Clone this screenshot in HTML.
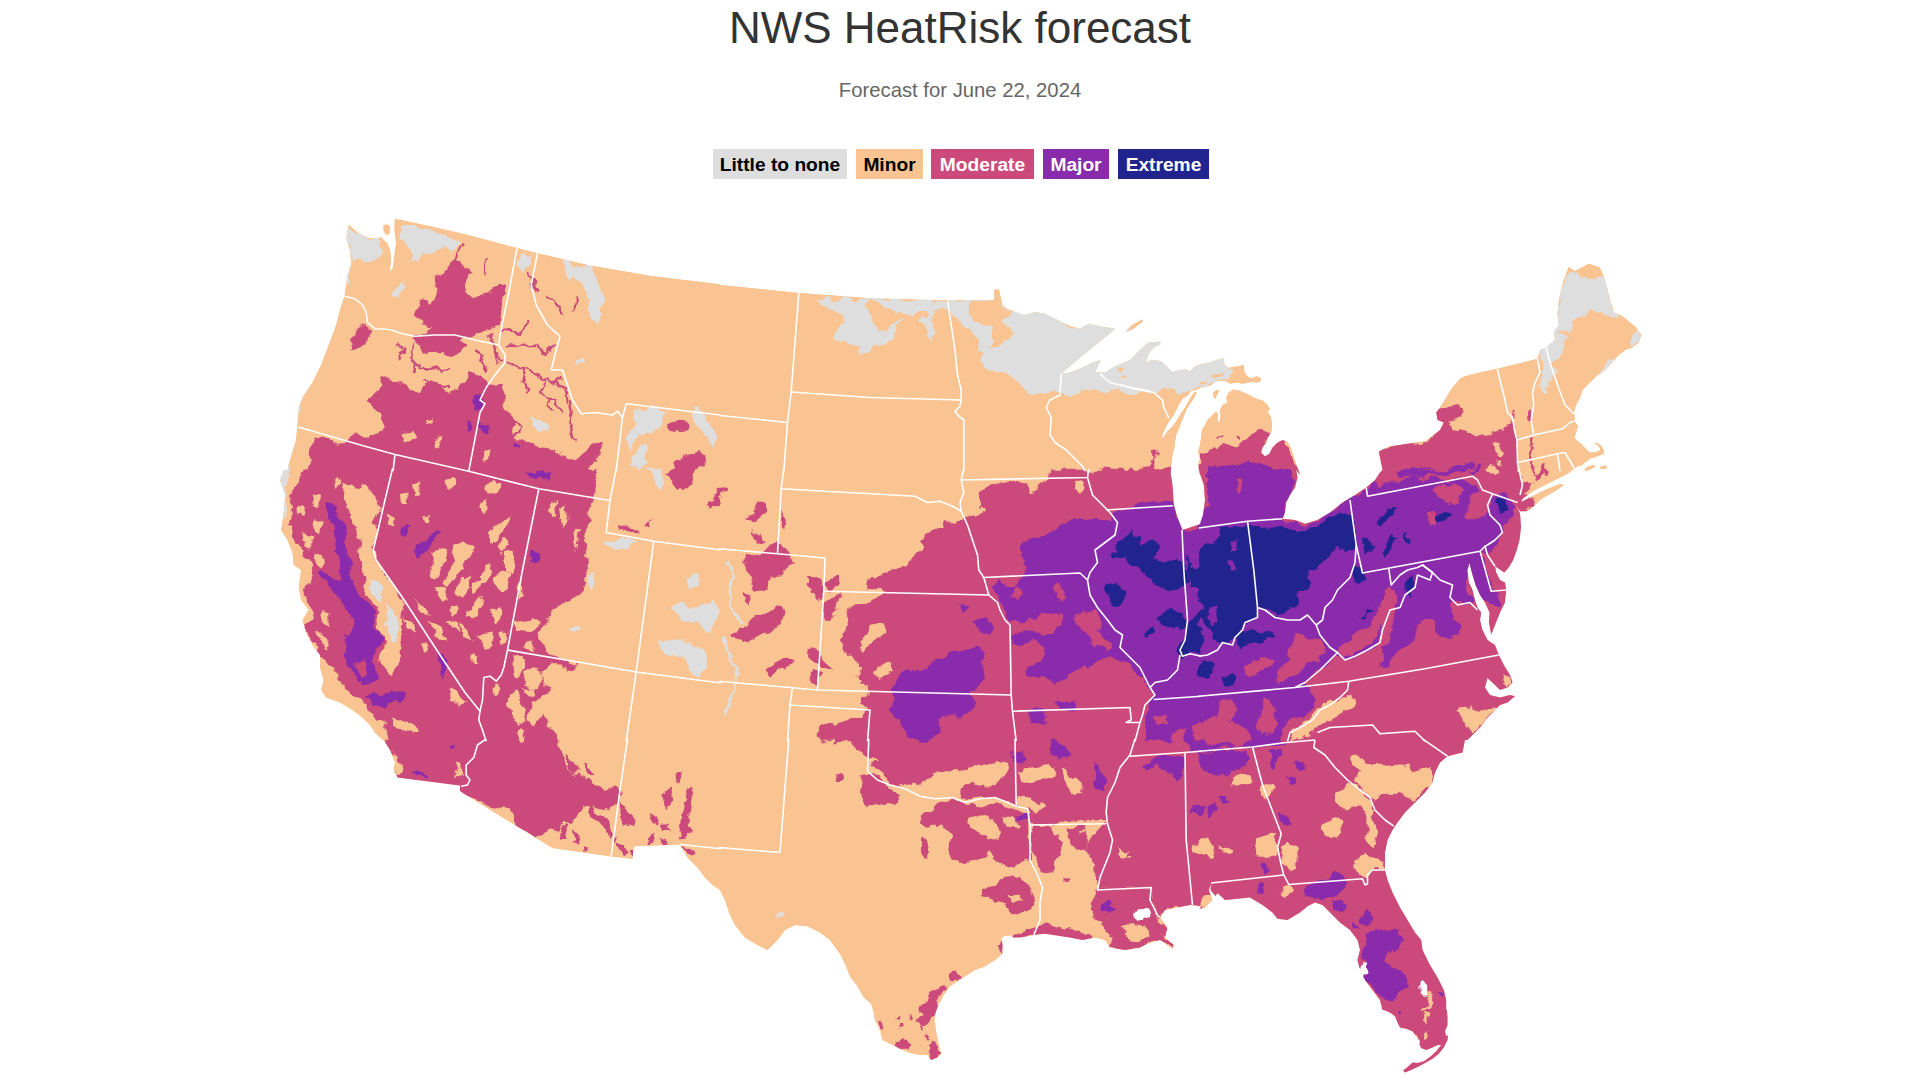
<!DOCTYPE html>
<html lang="en"><head><meta charset="utf-8"><title>NWS HeatRisk forecast</title>
<style>
html,body{margin:0;padding:0;background:#fff;}
body{width:1920px;height:1080px;overflow:hidden;position:relative;font-family:"Liberation Sans",sans-serif;}
h1{position:absolute;left:0;top:3px;width:1920px;margin:0;text-align:center;font-weight:400;font-size:44px;line-height:50px;color:#333;}
.sub{position:absolute;left:0;top:78px;width:1920px;text-align:center;font-size:20.3px;line-height:24px;color:#666;}
.lg{position:absolute;top:149px;height:30.4px;line-height:31.5px;font-size:19.2px;font-weight:700;text-align:center;white-space:nowrap;}
svg{position:absolute;left:0;top:0;}
</style></head><body>
<h1>NWS HeatRisk forecast</h1>
<div class="sub">Forecast for June 22, 2024</div>
<div class="lg" style="left:713px;width:134px;background:#dedede;color:#000">Little to none</div>
<div class="lg" style="left:856px;width:67px;background:#f9c491;color:#000">Minor</div>
<div class="lg" style="left:931px;width:103px;background:#cc4a7b;color:#fff">Moderate</div>
<div class="lg" style="left:1043px;width:66px;background:#8a2bab;color:#fff">Major</div>
<div class="lg" style="left:1118px;width:91px;background:#21248f;color:#fff">Extreme</div>
<svg width="1920" height="1080" viewBox="0 0 1920 1080">
<defs><filter id="rough" color-interpolation-filters="sRGB" filterUnits="userSpaceOnUse" x="0" y="0" width="1920" height="1080"><feTurbulence type="fractalNoise" baseFrequency="0.06" numOctaves="4" seed="7" result="n"/><feDisplacementMap in="SourceGraphic" in2="n" scale="13" xChannelSelector="R" yChannelSelector="G"/></filter><clipPath id="us"><polygon points="395,218.8 430,226.2 465,234.2 515,247.5 537.5,253.2 590,265.5 652.5,276.2 720,284.2 720,285 798.8,293 870,298.2 947.5,300.5 993.8,300 994.5,289.5 998.8,289.5 1002.5,305 1007.5,308.8 1016.2,312.5 1023.8,315 1035,312 1045,313.8 1057.5,320 1070,326.2 1080,328.8 1088.8,323.8 1100,326.2 1115,328.8 1105,337.5 1092.5,347.5 1080,357.5 1070,366.2 1061.2,373.8 1070,372.5 1082.5,367.5 1092.5,362.5 1100.5,360 1095,372.5 1105,372.5 1115,366.2 1130,360 1135,355 1142.5,347.5 1148.8,342.5 1160.6,341.5 1160,344.4 1153.8,347.5 1148.8,353.8 1145.6,363.1 1151.2,359.4 1161.2,361.2 1167.5,367.5 1172.5,371.9 1180,370 1186.2,369.4 1190,371.2 1195,366.2 1202.5,363.8 1210,362.5 1216.2,360 1223.8,358.1 1224.4,365 1228.8,368.1 1232.5,366.9 1238.8,366.2 1243.8,365 1244.4,372.5 1247.5,376.2 1251.2,378.8 1256.2,376.2 1260.6,378.1 1261.2,380.6 1257.5,382.5 1252.5,381.9 1247.5,382.5 1242.5,383.8 1237.5,382.5 1233.8,383.1 1230,383.8 1226.2,381.2 1220,380.6 1215,381.9 1211.2,385 1206.2,386.9 1200,387.5 1196.2,390 1191.2,390.6 1188.1,395 1182.5,398.8 1180,402.5 1177.5,407.5 1173.8,415 1170,420 1166.2,426.2 1163.1,432.5 1161.9,437.5 1163.8,436.9 1167.5,431.2 1172.5,426.2 1176.2,421.2 1180,415 1182.5,411.2 1185,407.5 1188.1,402.5 1190,398.8 1193.1,393.8 1195,391.9 1196.9,392.5 1193.8,398.8 1190,403.8 1186.2,410 1183.8,416.2 1181.2,422.5 1178.8,428.8 1176.2,435 1175,441.2 1174.4,447.5 1173.1,452.5 1171.9,458.8 1171.2,465 1170.6,475 1170,468.8 1172.5,485 1173.8,505 1177.5,517.5 1182.5,530 1201.2,523.8 1200,523.8 1203,515 1205,500 1203.8,485 1200.5,475 1200,475 1198.1,465 1200,458.8 1198.1,451.2 1200,445 1201.2,437.5 1201.9,430 1205,425 1207.5,420 1212.5,415 1216.2,411.2 1218.1,415 1217.5,421.2 1219.4,422.5 1220.6,415 1220,410 1222.5,405 1227.5,402.5 1226.2,397.5 1228.8,392.5 1233.1,389.4 1238.8,390.6 1243.8,392.5 1250,395.6 1256.2,398.8 1262.5,400.6 1267.5,405 1270,409.4 1267.5,411.9 1270.6,416.2 1271.9,422.5 1271.9,430 1268.8,436.2 1266.2,442.5 1262.5,447.5 1261.2,452.5 1265,456.2 1269.4,453.8 1272.5,447.5 1277.5,442.5 1282.5,440 1287.5,441.9 1290.6,447.5 1293.1,455 1295.6,462.5 1298.8,471.2 1300,475 1296.2,470 1297.5,477.5 1295,487.5 1290,495 1286.2,502.5 1285,512.5 1282.5,518.8 1295,520 1305,523.8 1317.5,520 1330,512.5 1342.5,502.5 1355,495 1366.2,487.5 1375,480 1380,472.5 1382.5,470 1378.8,451.2 1390,446.2 1407.5,443.8 1425,441.2 1433.8,435 1440,430 1443.8,422.5 1437.5,420 1436.2,412.5 1440,407.5 1446.2,397.5 1452.5,387.5 1460,378.8 1465,376.2 1480,372.5 1497.5,368.8 1512.5,365 1537.5,358.8 1540,350 1546.2,347.5 1555,340 1553.8,332.5 1558.8,325 1557.5,312.5 1560,295 1563.8,280 1568.8,267 1575,271.2 1588.8,263.8 1600,267.5 1605,280 1610,300 1613.8,312.5 1622.5,316.2 1630,322.5 1636.2,327.5 1641.2,335 1638.8,342.5 1632.5,347.5 1625,350 1617.5,356.2 1610,365 1602.5,372.5 1597.5,375 1590,382.5 1582.5,390 1580,397.5 1575,407.5 1573.8,413.8 1574.4,413.8 1574.4,421.2 1578.1,426 1576.2,432.5 1574.4,437.5 1576.2,440 1581.2,443.8 1585,448.1 1589.4,452.5 1595,452.2 1599.4,451 1600.4,448.8 1597.8,445.2 1594,443.1 1597.2,442.9 1601.5,446 1604,451 1603.5,454 1597.5,456.2 1590,458.8 1585,462.5 1582.5,465 1577.5,466.2 1572.5,470 1567.5,473.8 1562.5,476.2 1557.5,478.8 1550,482.5 1542.5,486.2 1535,490 1527.5,495 1522.5,498.8 1521.2,501.9 1527.5,498.8 1535,495 1543.8,490.6 1552.5,486.9 1560,484 1563.8,485 1558.8,488.8 1552.5,492.5 1546.2,496.2 1540,500 1535,505 1530,509.4 1526.2,511.2 1520,511.2 1515.5,505 1520,513.2 1521,526.8 1519.5,540 1516.8,550 1513.2,560 1508.2,568.2 1504.2,572.5 1498.8,568.8 1495,566.2 1496.2,572.5 1500,580 1505,582.5 1506.2,590 1505,602.5 1500,612.5 1495,625 1491.2,634.5 1489,622.5 1489.5,612.5 1485,602.5 1480,595 1475.5,585 1472.5,575 1470.5,567.5 1469.5,563 1467.5,570 1468.8,582.5 1472.5,590 1475,600 1477.5,607.5 1481.2,612.5 1480,620 1482.5,630 1487.5,640 1495,645 1498.8,655 1503.8,665 1510,675 1512.5,682.5 1507.5,687.5 1500,690 1495,685 1487.5,678 1485,687.5 1490,695 1500,697.5 1510,695 1515,696.2 1507.5,702.5 1500,705 1495,710 1487.5,717.5 1480,727.5 1472.5,735 1467.5,740 1465,740 1462.5,752.5 1447.5,756.2 1440,762.5 1435,772.5 1432.5,782.5 1425,792.5 1415,802.5 1405,812.5 1397.5,822.5 1392.5,830 1387.5,840 1385,852.5 1385,870 1387.5,880 1392.5,892.5 1400,907.5 1407.5,920 1415,932.5 1421.2,940 1422.5,950 1430,965 1437.5,977.5 1443.8,990 1446.2,1000 1446.2,1010 1446.9,1010 1447.5,1017.5 1447.5,1025 1445,1031.2 1446.2,1036.2 1448.1,1035 1447.5,1040 1443.8,1047.5 1438.8,1053.8 1432.5,1058.8 1425,1063.1 1417.5,1066.9 1410,1070.6 1405,1072.5 1403.1,1070.6 1407.5,1066.9 1412.5,1062.5 1417.5,1063.1 1423.8,1061.2 1430,1056.9 1436.2,1051.2 1441.2,1045 1437.5,1045 1432.5,1047.5 1426.2,1050 1421.2,1048.1 1419.4,1044.4 1420,1041.2 1416.2,1036.2 1412.5,1031.2 1406.2,1028.8 1400,1027.5 1397.5,1022.5 1395,1016.2 1390,1012.5 1383.8,1010 1382.5,1010 1380,1000 1372.5,990 1365,980 1360,970 1357.5,960 1360,950 1357.5,940 1350,930 1340,922.5 1330,912.5 1322.5,905 1315,902.5 1307.5,906.2 1300,912.5 1287.5,920 1277.5,918.8 1272.5,912.5 1262.5,905 1250,897.5 1237.5,898.8 1225,900 1217.5,893 1215.5,896.2 1210.5,890 1211.2,883.8 1208.8,890 1212.5,900 1205,907.5 1200,908.8 1201.2,906.2 1190,905 1177.5,907.5 1165,910 1160,917.5 1167.5,927.5 1165,937.5 1173.8,945 1172.5,948.8 1160,940 1150,942.5 1140,947.5 1125,950 1110,947.5 1105,940 1095,937.5 1082.5,940 1070,937.5 1045,933.8 1033.8,935 1020,937.5 1007.5,937.5 1002.5,942.5 1002.5,953.8 995,960 985,966.2 975,970 965,976.2 957.5,981.2 950,986.2 943.8,995 938.8,1003.8 935.6,1012.5 934.4,1020 936.2,1032.5 938.8,1045 941.2,1053.8 937.5,1057.5 931.2,1060 927.5,1055 917.5,1054.4 908.8,1052.5 900,1048.8 890,1043.8 882.5,1040 880,1030 875,1020 873.8,1012.5 871.2,1003.8 863.8,997.5 857.5,986.2 850,976.2 845,963.8 840,953.8 830,940 820,932.5 807.5,926.2 795,925 785,930 777.5,940 767.5,950 757.5,945 745,937.5 735,925 730,915 725,900 720,890 721.2,890.5 712.5,885 705,877.5 697.5,867.5 687.5,857.5 680,844.5 633.8,846.2 632.5,858.8 610,856.2 552.5,848 460,791.2 460,785.5 397.5,777.5 393.8,770 395,762.5 390,750 383.8,740 382.5,740 375,732.5 370,725 362.5,717.5 352.5,710 340,702.5 326.2,697.5 321.2,690 323.8,680 320,667.5 320,655 312.5,645 306.2,632.5 302.5,620 308.8,610 301.2,600 298.8,587.5 301.2,570 293.8,565 292.5,552.5 287.5,540 281.2,530 283.8,512.5 285,495 280,480 283.8,470 287.5,470 290,460 296.2,440 297.5,425 298.8,407.5 302.5,397.5 312.5,382.5 321.2,365 328.8,345 336.2,325 340,310 344.5,296.2 346.2,285 347.5,275 351.2,262.5 350,250 346.2,237.5 348.8,225 357.5,232.5 370,238.8 381.2,237.5 387.5,243.8 390,250 391.2,260 389.5,272.5 393,267.5 394.5,255 396.2,242.5 394.5,230 395,218.8"/><polygon points="1125.5,330.5 1132.5,325 1142,319.5 1143,321.2 1135,327.5 1127.5,332"/><polygon points="1585,468.8 1588.8,466.2 1594.4,465 1595,466.9 1590,469.4 1585.6,471"/><polygon points="1600,466.9 1605,465.6 1607.5,466.9 1605,468.8 1600.6,469"/><polygon points="1213.1,393.1 1216.2,390 1219.4,390.6 1216.9,395 1215.6,398.8 1213.8,397.5"/><polygon points="383.2,225 387.5,224.5 390,226.2 389.5,233.8 386.2,235 383.8,231.2"/></clipPath></defs>
<g clip-path="url(#us)">
<rect x="0" y="0" width="1920" height="1080" fill="#f9c491"/>
<g filter="url(#rough)">
<rect x="-50" y="-50" width="2020" height="1180" fill="#f9c491"/>
<polygon fill="#dedede" points="816.2,300 827.5,301.2 842.5,298 870,298.2 947.5,300.5 948.8,307.5 940,305 932.5,310 932.5,320 935,342.5 930,338.8 925,325 917.5,318.8 907.5,320 900,325 895,332.5 887.5,340 880,345 870,352.5 860,351.2 857.5,345 845,343.8 835,338.8 836.2,330 842.5,322.5 841.2,312.5 832.5,307.5 820,305"/>
<polygon fill="#dedede" points="948.8,298.8 995,298.8 1017.5,312.5 1023.8,313.8 1035,310 1045,312.5 1057.5,318.8 1070,325 1080,327.5 1088.8,322.5 1100,325 1117.5,327.5 1170,340 1200,350 1200,385 1190,391.2 1170,388.8 1150,390 1130,387.5 1110,390 1090,392.5 1070,395 1057.5,392.5 1045,395 1032.5,392.5 1022.5,390 1017.5,380 1007.5,375 995,372.5 985,367.5 981.2,360 985,352.5 977.5,350 975,340 970,330 960,325 952.5,315"/>
<polygon fill="#dedede" points="1555,340 1553.8,332.5 1558.8,325 1557.5,312.5 1560,295 1563.8,280 1568.8,272.5 1580,277.5 1590,276.2 1605,280 1610,300 1613.8,312.5 1622.5,316.2 1612.5,318.8 1600,311.2 1590,307.5 1585,315 1575,322.5 1570,330 1560,335"/>
<polygon fill="#dedede" points="1538.8,350 1546.2,346.2 1555,338.8 1560,336.2 1567.5,335 1560,350 1555,360 1550,362.5 1552.5,372.5 1550,380 1542.5,386.2 1541.2,375 1542.5,362.5 1540,355"/>
<polygon fill="#dedede" points="1636.2,326.2 1642.5,335 1639.5,343 1632.5,348 1633.8,340 1635,332.5"/>
<polygon fill="#dedede" points="1605,362.5 1615,360 1612.5,367.5 1607.5,373 1603,372.5"/>
<polygon fill="#dedede" points="1200,362.5 1212.5,359 1224.5,357 1225,365 1232.5,370 1227.5,375 1225,381.2 1212.5,380 1205,386.2 1200,388"/>
<polygon fill="#dedede" points="602.5,541.2 620,538.8 637.5,542.5 630,547.5 615,550 605,547.5"/>
<polygon fill="#dedede" points="687.5,577.5 697.5,575 698.8,585 690,590"/>
<polygon fill="#dedede" points="667.5,607.5 680,602.5 690,610 702.5,605 715,600 720,610 715,625 707.5,635 695,622.5 685,620 675,615"/>
<polygon fill="#dedede" points="660,645 675,637.5 690,642.5 702.5,650 707.5,665 700,677.5 690,662.5 677.5,657.5 665,655"/>
<polygon fill="#dedede" points="567.5,627.5 580,622.5 581.2,627.5 570,632.5"/>
<polygon fill="#dedede" points="588.8,575 596.2,572.5 595,585 590,590"/>
<polygon fill="#dedede" points="645,468.8 657.5,468.8 665,482.5 662.5,488.8 652.5,480"/>
<polygon fill="#dedede" points="281.2,468.8 291.2,468.8 285.8,485 287,507.5 284.5,520 281.2,530 283,512.5 279.5,495 279.5,480"/>
<polygon fill="#dedede" points="776.2,910 783.8,910 782.5,917.5 776.2,918.8"/>
<polygon fill="#dedede" points="1541.2,383.8 1546.2,381.2 1550,385 1548.8,392.5 1545,388.8"/>
<polygon fill="#dedede" points="1119.4,339.4 1225,339.4 1225,365 1228.8,368.8 1226.2,381.2 1220,380.6 1215,381.9 1211.2,385 1206.2,386.9 1200,388.1 1196.2,390.6 1191.2,390.6 1187.5,392.5 1182.5,393.1 1180,395 1173.8,390 1167.5,389.4 1157.5,391.2 1150,390 1145,388.1 1140,392.5 1135,395.6 1130,395 1125,392.5 1119.4,390"/>
<polygon fill="#dedede" points="347.5,226.2 357.5,233.8 370,239.5 380,238.8 382.5,250 375,260 365,262.5 357.5,257.5 352.5,260 350,250 346.2,237.5"/>
<polygon fill="#dedede" points="347,262.5 352.5,263.8 350,275 348.8,285 345.5,285 347,275"/>
<polygon fill="#dedede" points="400,227.5 415,225 430,228.8 440,235 452.5,237.5 460,242.5 452.5,250 440,247.5 435,255 425,253.8 415,262.5 407.5,257.5 410,247.5 402.5,240"/>
<polygon fill="#dedede" points="395,287.5 402.5,282.5 407.5,286.2 400,295 393.8,293.8"/>
<polygon fill="#dedede" points="520,253.8 527.5,252.5 530,262.5 522.5,272.5 518.8,265"/>
<polygon fill="#dedede" points="562.5,261.2 572.5,260 577.5,272.5 572.5,280 565,272.5"/>
<polygon fill="#dedede" points="575,265 590,267.5 597.5,282.5 603.8,300 602.5,312.5 595,325 590,315 592.5,300 585,287.5 577.5,280"/>
<polygon fill="#dedede" points="575,360 585,357.5 586.2,362.5 576.2,365"/>
<polygon fill="#dedede" points="635,407.5 650,410 665,412.5 662.5,425 652.5,432.5 640,437.5 630,450 625,440 632.5,425"/>
<polygon fill="#dedede" points="690,407.5 700,412.5 710,425 717.5,437.5 715,447.5 705,435 695,425"/>
<polygon fill="#dedede" points="298,400 303.8,397.5 301.2,407.5 297.5,415"/>
<polygon fill="#dedede" points="530,417.5 540,420 547.5,430 540,432.5 532.5,425"/>
<polygon fill="#dedede" points="632.5,452.5 645,447.5 650,460 640,470 630,465"/>
<polyline fill="none" stroke="#dedede" stroke-width="2.5" stroke-linejoin="round" stroke-linecap="round" points="727.5,560 732.5,575 728.8,595 732.5,610 742.5,625"/>
<polyline fill="none" stroke="#dedede" stroke-width="2.5" stroke-linejoin="round" stroke-linecap="round" points="723.8,635 730,655 737.5,675 732.5,695 725,715"/>
<polygon fill="#cc4a7b" points="457.5,260 465,267.5 472.5,272.5 465,282.5 466.2,292.5 475,298.8 487.5,296.2 490,286.2 500,283.8 506.2,288.8 502.5,300 501.2,310 500,325 492.5,330 480,332.5 465,336.2 467.5,345 457.5,353.8 447.5,356.2 430,352.5 420,347.5 412.5,342.5 412.5,336.2 425,333.8 430,326.2 420,322.5 413.8,315 417.5,307.5 420,301.2 427.5,302.5 432.5,307.5 435,297.5 437.5,285 432.5,277.5 440,275 447.5,267.5 452.5,261.2"/>
<polygon fill="#cc4a7b" points="365,325 372.5,330 367.5,337.5 360,345 351.2,348.8 351.2,341.2 356.2,331.2"/>
<polygon fill="#cc4a7b" points="367.5,400 376.2,392.5 382.5,385 380,377.5 390,377.5 400,382.5 405,390 415,392.5 425,387.5 430,380 440,385 450,392.5 457.5,390 465,382.5 467.5,370 475,372.5 486.2,380 490,385 502.5,383.8 505,400 508.8,412.5 515,420 510,430 517.5,437.5 527.5,442.5 540,447.5 552.5,450 565,452.5 577.5,460 590,450 600,442.5 605,440 600,452.5 590,465 585,471.2 307.5,471.2 310,452.5 315,437.5 327.5,440 340,447.5 352.5,435 365,440 375,435 385,425 380,415 372.5,407.5"/>
<polygon fill="#cc4a7b" points="1200,452.5 1210,450 1225,447.5 1237.5,445 1250,437.5 1257.5,432.5 1265,428.8 1270,435 1265,443.8 1261.2,450 1263.8,455 1268.8,455 1272.5,447.5 1280,440.5 1287,440.5 1290.5,450 1294.5,460 1297.5,471.2 1200,471.2"/>
<polygon fill="#cc4a7b" points="1378,451.2 1390,445.8 1407.5,443.2 1425,440.8 1433.8,434.5 1440,429.5 1443.8,422.5 1437.5,420 1435.5,412.5 1440,410 1450,407.5 1460,407.5 1461.2,417.5 1455,420 1447.5,422.5 1446.2,430 1460,431.2 1475,432.5 1487.5,436.2 1497.5,437.5 1500,430 1507.5,425 1512.5,422.5 1515,432.5 1517,440 1517.5,471.2 1378,471.2"/>
<polygon fill="#cc4a7b" points="1527,412.5 1530.5,411.2 1531.5,420 1528,421.2"/>
<polygon fill="#cc4a7b" points="302.5,468.8 297.5,485 290,495 293.8,512.5 288.8,530 292.5,542.5 305,550 312.5,565 307.5,577.5 302.5,592.5 307.5,605 312.5,615 305,625 310,640 317.5,650 335,670 340,682.5 350,690 360,695 370,710 380,720 385,730 390,741.2 557.5,741.2 555,732.5 547.5,722.5 540,715 535,702.5 545,695 552.5,687.5 543.8,682.5 540,670 550,665 560,667.5 572.5,667.5 577.5,662.5 565,660 543.8,652.5 543.8,645 540,632.5 547.5,620 552.5,610 572.5,600 585,582.5 588.8,557.5 585,532.5 590,510 595,495 597.5,468.8"/>
<polygon fill="#cc4a7b" points="665,477.5 680,468.8 697.5,468.8 690,482.5 675,490"/>
<polygon fill="#cc4a7b" points="617.5,525 635,528.8 637.5,532.5 620,530"/>
<polygon fill="#cc4a7b" points="642.5,523.8 652.5,520 650,527.5"/>
<polygon fill="#cc4a7b" points="707.5,502.5 721.2,493.8 721.2,502.5 710,507.5"/>
<polygon fill="#cc4a7b" points="1052.5,468.8 1050,477.5 1040,485 1030,490 1025,482.5 1012.5,480 1000,482.5 990,487.5 980,492.5 977.5,502.5 985,507.5 975,515 965,517.5 955,522.5 942.5,520 945,527.5 932.5,528.8 925,535 920,542.5 925,547.5 915,555 907.5,565 895,570 880,575 867.5,580 865,587.5 875,585 885,592.5 880,595 870,602.5 855,605 845,615 850,622.5 845,632.5 837.5,640 845,650 855,657.5 860,667.5 857.5,677.5 865,685 870,692.5 862.5,697.5 860,705 867.5,710 860,715 850,720 837.5,725 825,727.5 817.5,732.5 820,741.2 1201.2,741.2 1201.2,468.8"/>
<polygon fill="#cc4a7b" points="745,555 762.5,552.5 770,545 787.5,547.5 792.5,555 795,562.5 785,570 777.5,577.5 770,580 765,592.5 755,590 750,577.5 743.8,570"/>
<polygon fill="#cc4a7b" points="806.2,576.2 822.5,576.2 823.8,595 817.5,600 807.5,595"/>
<polygon fill="#cc4a7b" points="825,580 837.5,577.5 840,587.5 830,590"/>
<polygon fill="#cc4a7b" points="730,635 745,630 752.5,620 765,612.5 777.5,605 787.5,610 780,622.5 770,632.5 757.5,635 745,642.5 735,640"/>
<polygon fill="#cc4a7b" points="766.2,672.5 775,662.5 787.5,657.5 792.5,662.5 780,670 770,677.5"/>
<polygon fill="#cc4a7b" points="747.5,520 755,502.5 763.8,505 762.5,515 752.5,523.8"/>
<polygon fill="#cc4a7b" points="780,511.2 787.5,520 786.2,528.8 781.2,522.5"/>
<polygon fill="#cc4a7b" points="718.8,490 725,488.8 723.8,497.5 718.8,498.8"/>
<polygon fill="#cc4a7b" points="745,590 752.5,595 747.5,605 743.8,600"/>
<polygon fill="#cc4a7b" points="807.5,647.5 820,650 825,660 830,670 820,667.5 812.5,657.5"/>
<polygon fill="#cc4a7b" points="815,670 820,672.5 816.2,687.5 812.5,682.5"/>
<polygon fill="#cc4a7b" points="825,600 840,595 837.5,610 830,620 822.5,615"/>
<polygon fill="#cc4a7b" points="752.5,530 762.5,535 765,542.5 757.5,540"/>
<polygon fill="#cc4a7b" points="1198.8,468.8 1518.8,468.8 1522.5,485 1521.2,495 1535,500 1537.5,505 1525,510 1681.2,510 1681.2,741.2 1198.8,741.2"/>
<polygon fill="#cc4a7b" points="380,738.8 552.5,738.8 560,752.5 565,765 577.5,772.5 590,782.5 602.5,790 615,785 618.8,790 617.5,805 610,810 600,807.5 590,805 582.5,807.5 577.5,817.5 572.5,825 562.5,825 557.5,832.5 547.5,830 542.5,835 535,838.8 515,827.5 512.5,815 510,807.5 490,805 470,796.2 460,793.8 457.5,787.5 395,780 390,765"/>
<polygon fill="#cc4a7b" points="587.5,802.5 595,807.5 605,822.5 610,835 607.5,840 600,827.5 590,815"/>
<polygon fill="#cc4a7b" points="617.5,802.5 625,807.5 632.5,815 635,822.5 627.5,825 620,815"/>
<polygon fill="#cc4a7b" points="572.5,832.5 577.5,835 576.2,845 571.2,842.5"/>
<polygon fill="#cc4a7b" points="585,845 590,847.5 588.8,852.5 583.8,851.2"/>
<polygon fill="#cc4a7b" points="560,830 567.5,825 565,837.5 558.8,840"/>
<polygon fill="#cc4a7b" points="650,812.5 657.5,815 660,825 652.5,827.5"/>
<polygon fill="#cc4a7b" points="662.5,795 670,787.5 671.2,800 665,810"/>
<polygon fill="#cc4a7b" points="662.5,822.5 670,822.5 668.8,830 663.8,830"/>
<polygon fill="#cc4a7b" points="682.5,802.5 687.5,797.5 692.5,785 695,792.5 688.8,810 687.5,825 690,835 682.5,837.5 680,827.5"/>
<polygon fill="#cc4a7b" points="672.5,775 680,772.5 677.5,782.5 673.8,783.8"/>
<polygon fill="#cc4a7b" points="681.2,845 690,846.2 697.5,855 692.5,856.2 687.5,852.5"/>
<polygon fill="#cc4a7b" points="617.5,845 625,845 626.2,852.5 620,855"/>
<polygon fill="#cc4a7b" points="628.8,850 632.5,850 632.5,858.8 628.8,857.5"/>
<polygon fill="#cc4a7b" points="612.5,837.5 617.5,836.2 616.2,845 612.5,845"/>
<polygon fill="#cc4a7b" points="647.5,837.5 655,835 653.8,845 648.8,845"/>
<polygon fill="#cc4a7b" points="662.5,840 667.5,838.8 668.8,847.5 663.8,847.5"/>
<polygon fill="#cc4a7b" points="565,755 572.5,760 580,770 575,771.2 567.5,765"/>
<polygon fill="#cc4a7b" points="585,762.5 590,765 595,775 590,775"/>
<polygon fill="#cc4a7b" points="852.5,738.8 856.2,750 867.5,755 880,762.5 870,767.5 880,772.5 892.5,782.5 907.5,787.5 920,782.5 932.5,777.5 940,770 957.5,772.5 970,767.5 982.5,765 995,760 1007.5,765 1005,775 995,782.5 982.5,785 970,782.5 960,787.5 965,800 980,797.5 995,796.2 1007.5,801.2 1016.2,805 1027.5,808.8 1030,825 1045,825 1057.5,822.5 1070,817.5 1082.5,822.5 1095,820 1106.2,822.5 1110,815 1120,790 1145,765 1145,738.8"/>
<polygon fill="#cc4a7b" points="1106.2,738.8 1201.2,738.8 1201.2,907.5 1190,905 1177.5,907.5 1165,910 1160,917.5 1150,900 1151.2,887.5 1097.5,890 1095,870 1090,860 1082.5,850 1087.5,840 1095,832.5 1106.2,823.8 1106.2,812.5 1107.5,797.5 1115,782.5 1120,767.5 1130,755 1135,740"/>
<polygon fill="#cc4a7b" points="858.8,777.5 867.5,773.8 880,780 892.5,786.2 900,795 895,802.5 885,805 872.5,802.5 865,806.2 862.5,797.5 863.8,787.5"/>
<polygon fill="#cc4a7b" points="922.5,815 932.5,810 940,802.5 952.5,800 965,805 980,807.5 995,805 1007.5,807.5 1020,812.5 1027.5,815 1030,860 1020,865 1007.5,867.5 997.5,860 990,850 980,857.5 970,860 960,865 950,860 947.5,847.5 952.5,835 945,825 935,822.5 927.5,827.5 920,825"/>
<polygon fill="#cc4a7b" points="985,890 995,882.5 1007.5,876.2 1020,880 1030,890 1035,900 1027.5,910 1020,912.5 1007.5,915 1002.5,905 992.5,900 985,896.2"/>
<polygon fill="#cc4a7b" points="1032.5,827.5 1052.5,826.2 1057.5,840 1060,855 1055,870 1045,872.5 1035,865 1031.2,850"/>
<polygon fill="#cc4a7b" points="1067.5,827.5 1080,826.2 1087.5,840 1082.5,850 1072.5,847.5 1068.8,837.5"/>
<polygon fill="#cc4a7b" points="1064.5,875 1070,876.2 1068.8,881.2 1064.5,880"/>
<polygon fill="#cc4a7b" points="1095,890 1151.2,887.5 1150,900 1157.5,915 1167.5,927.5 1165,937.5 1173.8,945 1172.5,948.8 1160,940 1150,942.5 1140,947.5 1125,951.2 1110,948.8 1112.5,937.5 1105,930 1095,920 1090,907.5 1092.5,897.5"/>
<polygon fill="#cc4a7b" points="1033.8,926.2 1045,923.8 1057.5,927.5 1075,932.5 1087.5,933.8 1095,937.5 1082.5,941.2 1070,938.8 1045,935 1033.8,936.2"/>
<polygon fill="#cc4a7b" points="1002.5,942.5 1010,937.5 1022.5,932.5 1033.8,926.2 1033.8,936.2 1020,938.8 1007.5,947.5 1000,952.5"/>
<polygon fill="#cc4a7b" points="950,975 960,970 962.5,976.2 952.5,981.2"/>
<polygon fill="#cc4a7b" points="918.8,1011.2 927.5,995 940,985 945,987.5 940,997.5 932.5,1011.2"/>
<polygon fill="#cc4a7b" points="836.2,771.2 845,772.5 846.2,780 837.5,780"/>
<polygon fill="#cc4a7b" points="920,840 927.5,842.5 930,852.5 925,860 920,852.5"/>
<polygon fill="#cc4a7b" points="925,815 930,812.5 932.5,822.5 926.2,825"/>
<polygon fill="#cc4a7b" points="820,738.8 825,741.2 830,738.8"/>
<polygon fill="#cc4a7b" points="1198.8,738.8 1475,738.8 1475,1011.2 1198.8,1011.2"/>
<polygon fill="#cc4a7b" points="918.8,1006.2 925,998.8 931.2,991.2 940,986.2 943.8,987.5 941.2,995 937.5,1003.8 935.6,1012.5 933.8,1015 930,1020 927.5,1025 922.5,1022.5 916.2,1020 920,1016.2 923.8,1013.8 920,1010"/>
<polygon fill="#cc4a7b" points="950.6,974.4 956.2,970 961.2,973.8 962.5,977.5 956.2,980 952.5,978.8"/>
<polygon fill="#cc4a7b" points="928.8,1055 930,1047.5 932.5,1043.8 936.2,1045 938.8,1052.5 941.9,1054.4 937.5,1058.1 931.2,1060.6"/>
<polygon fill="#cc4a7b" points="892.5,1043.8 900,1041.2 903.8,1038.1 908.8,1041.2 912.5,1045 910.6,1052.5 903.8,1050.6 897.5,1047.5"/>
<polygon fill="#cc4a7b" points="896.2,1020 900,1015 901.2,1017.5 898.8,1022.5"/>
<polygon fill="#cc4a7b" points="906.2,1015 912.5,1016.2 913.1,1018.8 907.5,1017.5"/>
<polygon fill="#cc4a7b" points="898.8,1026.2 903.8,1024.4 905,1026.2 900,1028.8"/>
<polygon fill="#cc4a7b" points="878.1,1025 881.2,1023.1 883.1,1030 880,1030"/>
<polygon fill="#cc4a7b" points="926.2,1036.2 930,1035.6 929.4,1042.5 926.9,1041.9"/>
<polygon fill="#cc4a7b" points="998.8,946.2 1005,945 1002.5,950 998.8,951.2"/>
<polygon fill="#cc4a7b" points="922.5,1025 925.6,1025 925,1031.2 923.1,1031.2"/>
<polygon fill="#cc4a7b" points="1370,995 1457.5,995 1457.5,1080.6 1370,1080.6"/>
<polygon fill="#cc4a7b" points="1439.4,416.2 1443.8,415 1447.5,417.5 1446.2,422.5 1448.8,427.5 1455,431.2 1462.5,430 1471.2,432.5 1480,436.2 1487.5,438.8 1493.8,435 1498.8,431.2 1505,428.8 1510,425 1513.8,422.5 1515,432.5 1516.2,440 1516.9,450 1517.5,462.5 1518.8,472.5 1521.2,480 1527.5,478.8 1532.5,483.8 1530,488.8 1526.2,492.5 1522.5,496.2 1520,500 1527.5,500.6 1535,497.5 1532.5,501.2 1527.5,505 1522.5,510 1520,515.6 1439.4,515.6"/>
<polygon fill="#cc4a7b" points="1531.2,460 1533.8,461.2 1533.1,470 1535,475 1538.8,467.5 1541.2,461.2 1543.8,460 1543.1,467.5 1546.2,475 1543.8,476.2 1540,472.5 1537.5,480 1533.8,481.2 1532.5,475 1530.6,467.5"/>
<polygon fill="#cc4a7b" points="1530,441.2 1533.1,440.6 1533.1,446.2 1530.2,445.6"/>
<polygon fill="#cc4a7b" points="1526.2,417.5 1529.4,412.5 1530.6,418.8 1527.5,420.6"/>
<polygon fill="#cc4a7b" points="1512.5,411.2 1514.4,411.9 1515,420 1513.1,418.8"/>
<polygon fill="#cc4a7b" points="1456.2,407.5 1460.6,408.1 1461.2,417.5 1458.8,416.2"/>
<polygon fill="#cc4a7b" points="1201.9,457.5 1207.5,451.2 1212.5,448.8 1220,450 1223.8,445 1230,446.2 1237.5,446.2 1243.8,442.5 1247.5,438.8 1252.5,436.2 1256.2,431.2 1262.5,427.5 1265.6,431.2 1262.5,437.5 1260,440 1263.8,443.8 1262.5,447.5 1261.2,452.5 1265,456.2 1269.4,453.8 1272.5,447.5 1277.5,442.5 1282.5,440 1287.5,441.9 1290.6,447.5 1293.1,455 1295.6,462.5 1298.8,471.2 1300.6,475.6 1198.8,475.6 1198.1,465"/>
<polygon fill="#cc4a7b" points="1216.2,438.8 1223.8,434.4 1224.4,436.2 1217.5,440.6"/>
<polygon fill="#cc4a7b" points="1237.5,435.6 1241.2,436.2 1241.9,438.8 1238.1,438.1"/>
<polygon fill="#cc4a7b" points="1151.9,452.5 1153.8,450 1156.2,450.6 1155,456.2 1153.8,460 1155.6,465 1157.5,468.8 1163.8,470 1167.5,471.2 1167.5,475.6 1119.4,475.6 1119.4,471.2 1127.5,470 1135,472.5 1142.5,470.6 1148.8,467.5 1151.2,462.5 1152.5,458.8"/>
<polygon fill="#cc4a7b" points="670,422.5 677.5,418.8 687.5,422.5 686.2,431.2 677.5,432.5 671.2,428.8"/>
<polygon fill="#cc4a7b" points="675,462.5 687.5,455 700,450 707.5,455 702.5,465 690,471.2 677.5,471.2"/>
<polygon fill="#cc4a7b" points="1436.7,413.3 1446.7,410 1448.3,420 1450,428.3 1443.3,430 1438.3,423.3"/>
<polyline fill="none" stroke="#cc4a7b" stroke-width="2" stroke-linejoin="round" stroke-linecap="round" points="1531.2,441.2 1532,451.2 1532.5,460"/>
<polyline fill="none" stroke="#cc4a7b" stroke-width="2.2" stroke-linejoin="round" stroke-linecap="round" points="500,331.2 510,330 517.5,333.8 523.8,327.5 527.5,320"/>
<polyline fill="none" stroke="#cc4a7b" stroke-width="2.2" stroke-linejoin="round" stroke-linecap="round" points="507.5,347.5 517.5,342.5 527.5,347.5 537.5,343.8 547.5,350 552.5,347.5"/>
<polyline fill="none" stroke="#cc4a7b" stroke-width="2.2" stroke-linejoin="round" stroke-linecap="round" points="505,363.8 515,365 525,370 535,372.5 543.8,378.8 555,383.8 562.5,380"/>
<polyline fill="none" stroke="#cc4a7b" stroke-width="2.2" stroke-linejoin="round" stroke-linecap="round" points="543.8,378.8 540,390 547.5,397.5 555,400 560,411.2"/>
<polyline fill="none" stroke="#cc4a7b" stroke-width="2.2" stroke-linejoin="round" stroke-linecap="round" points="555,383.8 565,390 567.5,400"/>
<polyline fill="none" stroke="#cc4a7b" stroke-width="2.2" stroke-linejoin="round" stroke-linecap="round" points="525,370 522.5,380 527.5,390"/>
<polyline fill="none" stroke="#cc4a7b" stroke-width="2.2" stroke-linejoin="round" stroke-linecap="round" points="490,335 495,350 501.2,360"/>
<polyline fill="none" stroke="#cc4a7b" stroke-width="2.2" stroke-linejoin="round" stroke-linecap="round" points="570,400 572.5,417.5 570,432.5 575,437.5"/>
<polyline fill="none" stroke="#cc4a7b" stroke-width="2.2" stroke-linejoin="round" stroke-linecap="round" points="550,397.5 547.5,407.5 552.5,412.5"/>
<polyline fill="none" stroke="#cc4a7b" stroke-width="2.2" stroke-linejoin="round" stroke-linecap="round" points="515,420 520,425 515,435"/>
<polyline fill="none" stroke="#cc4a7b" stroke-width="2.2" stroke-linejoin="round" stroke-linecap="round" points="412.5,347.5 411.2,360 415,372.5"/>
<polyline fill="none" stroke="#cc4a7b" stroke-width="2.2" stroke-linejoin="round" stroke-linecap="round" points="415,365 430,366.2 440,372.5 447.5,370"/>
<polyline fill="none" stroke="#cc4a7b" stroke-width="2.2" stroke-linejoin="round" stroke-linecap="round" points="425,380 437.5,383.8 450,386.2"/>
<polyline fill="none" stroke="#cc4a7b" stroke-width="2.2" stroke-linejoin="round" stroke-linecap="round" points="397.5,345 402.5,350 400,357.5"/>
<polyline fill="none" stroke="#cc4a7b" stroke-width="2.2" stroke-linejoin="round" stroke-linecap="round" points="475,350 480,360 487.5,370"/>
<polyline fill="none" stroke="#cc4a7b" stroke-width="2.2" stroke-linejoin="round" stroke-linecap="round" points="495,350 497.5,362.5"/>
<polyline fill="none" stroke="#cc4a7b" stroke-width="2.2" stroke-linejoin="round" stroke-linecap="round" points="457.5,261.2 460,250 462.5,242.5"/>
<polyline fill="none" stroke="#cc4a7b" stroke-width="2.2" stroke-linejoin="round" stroke-linecap="round" points="485,272.5 487.5,262.5 490,257.5"/>
<polyline fill="none" stroke="#cc4a7b" stroke-width="2.2" stroke-linejoin="round" stroke-linecap="round" points="530,275 532.5,282.5 537.5,287.5"/>
<polyline fill="none" stroke="#cc4a7b" stroke-width="2.2" stroke-linejoin="round" stroke-linecap="round" points="547.5,295 557.5,305 562.5,315"/>
<polyline fill="none" stroke="#cc4a7b" stroke-width="2.2" stroke-linejoin="round" stroke-linecap="round" points="575,300 573.8,312.5"/>
<polygon fill="#f9c491" points="863.8,307.5 870,300 877.5,305 885,310 900,312.5 910,315 930,315 930,320 910,319.5 900,322.5 892.5,325 890,330 880,331.2 875,325 870,317.5"/>
<polygon fill="#f9c491" points="968.8,305 982.5,301.2 993.8,300 994.5,288.8 998.8,288.8 1002.5,305 1016.2,312.5 1005,316.2 1000,320 1010,322.5 1012.5,332.5 1005,342.5 992.5,346.2 985,347.5 991.2,340 988.8,325 977.5,322.5 970,312.5"/>
<polygon fill="#f9c491" points="1117.5,366.2 1126.2,367 1125,370.5 1118.8,370"/>
<polygon fill="#f9c491" points="1122.5,376.2 1128.8,378.8 1127.5,381.2 1122,378.8"/>
<polygon fill="#f9c491" points="345,485 357.5,490 365,485 375,495 380,510 372.5,520 376.2,535 372.5,550 376.2,562.5 390,580 400,597.5 402.5,610 400,625 402.5,640 400,655 395,667.5 390,677.5 385,670 382.5,655 383.8,642.5 380,630 377.5,615 370,600 365,582.5 362.5,567.5 357.5,552.5 360,537.5 352.5,525 350,510 342.5,497.5"/>
<polygon fill="#dedede" points="372.5,580 380,582.5 383.8,595 380,602.5 373.8,595"/>
<polygon fill="#dedede" points="385,607.5 392.5,610 397.5,630 396.2,645 390,645 387.5,630"/>
<polygon fill="#f9c491" points="430,555 440,550 447.5,552.5 442.5,565 437.5,580 430,577.5 432.5,565"/>
<polygon fill="#f9c491" points="452.5,545 465,542.5 475,547.5 467.5,557.5 460,570 452.5,580 447.5,587.5 442.5,582.5 450,570 455,557.5"/>
<polygon fill="#f9c491" points="490,530 500,520 507.5,515 505,527.5 497.5,540 490,542.5"/>
<polygon fill="#f9c491" points="480,570 490,565 492.5,575 485,585 480,580"/>
<polygon fill="#f9c491" points="495,580 505,570 508.8,577.5 502.5,590 495,590"/>
<polygon fill="#f9c491" points="465,610 477.5,600 483.8,592.5 482.5,605 472.5,615 466.2,617.5"/>
<polygon fill="#f9c491" points="445,620 455,625 460,635 452.5,632.5 447.5,627.5"/>
<polygon fill="#f9c491" points="486.2,482.5 492.5,480 502.5,485 497.5,490 490,492.5"/>
<polygon fill="#f9c491" points="560,507.5 565,505 567.5,520 562.5,525"/>
<polygon fill="#f9c491" points="575,532.5 580,527.5 577.5,550 573.8,545"/>
<polygon fill="#f9c491" points="515,620 532.5,617.5 540,625 527.5,632.5 515,630"/>
<polygon fill="#f9c491" points="497.5,632.5 507.5,630 505,642.5 500,645"/>
<polygon fill="#f9c491" points="342.5,485 352.5,487.5 357.5,497.5 347.5,502.5 343.8,495"/>
<polygon fill="#f9c491" points="472.5,655 477.5,652.5 476.2,662.5 472.5,662.5"/>
<polygon fill="#f9c491" points="447.5,690 457.5,695 465,702.5 457.5,707.5 450,700"/>
<polygon fill="#f9c491" points="510,700 517.5,695 522.5,707.5 527.5,720 520,725 512.5,715"/>
<polygon fill="#f9c491" points="425,515 430,512.5 428.8,520 425.5,520"/>
<polygon fill="#f9c491" points="387.5,717.5 400,720 415,725 420,730 410,732.5 395,727.5"/>
<polygon fill="#f9c491" points="511.2,656.2 520,657.5 525,667.5 520,677.5 513.8,675"/>
<polygon fill="#f9c491" points="525,690 535,687.5 536.2,695 527.5,697.5"/>
<polygon fill="#f9c491" points="870,625 882.5,622.5 887.5,630 880,640 870,645 862.5,650 857.5,642.5 867.5,635"/>
<polygon fill="#f9c491" points="877.5,665 890,662.5 892.5,670 882.5,677.5 875,672.5"/>
<polygon fill="#f9c491" points="1026.2,480 1047.5,479.5 1040,488.8 1031.2,492.5"/>
<polygon fill="#f9c491" points="1072.5,481.2 1083.8,480 1082.5,495 1075,490"/>
<polygon fill="#f9c491" points="1500,672.5 1510,675 1512.5,682.5 1507.5,687.5 1502.5,682.5"/>
<polygon fill="#f9c491" points="1457.5,710 1475,707.5 1487.5,710 1495,710 1487.5,717.5 1480,727.5 1472.5,735 1465,725 1460,717.5"/>
<polygon fill="#f9c491" points="1305,720 1317.5,710 1330,702.5 1340,700 1350,695 1355,700 1350,707.5 1342.5,710 1337.5,717.5 1325,722.5 1317.5,730 1307.5,732.5 1297.5,741.2 1290,741.2 1295,730"/>
<polygon fill="#f9c491" points="388.8,748.8 400,755 402.5,767.5 398,778 393,770 394.5,762.5"/>
<polygon fill="#f9c491" points="452.5,763.8 457.5,765 465,777.5 460,780"/>
<polygon fill="#f9c491" points="1020,772.5 1035,767.5 1050,765 1057.5,772.5 1045,780 1032.5,782.5 1022.5,780"/>
<polygon fill="#f9c491" points="1065,767.5 1072.5,775 1082.5,785 1085,795 1075,797.5 1067.5,787.5 1063.8,777.5"/>
<polygon fill="#f9c491" points="1017.5,797.5 1032.5,800 1045,807.5 1035,812.5 1020,807.5"/>
<polygon fill="#f9c491" points="1190,845 1201.2,847.5 1201.2,852.5 1191.2,851.2"/>
<polygon fill="#f9c491" points="1120,847.5 1130,850 1130,857.5 1122.5,857.5"/>
<polygon fill="#f9c491" points="970,817.5 985,815 995,822.5 1002.5,832.5 995,840 982.5,835 972.5,827.5"/>
<polygon fill="#f9c491" points="1002.5,815 1015,817.5 1017.5,827.5 1007.5,827.5"/>
<polygon fill="#f9c491" points="1007.5,895 1017.5,892.5 1020,900 1012.5,905"/>
<polygon fill="#f9c491" points="1120,930 1132.5,925 1145,927.5 1150,935 1140,940 1130,937.5"/>
<polygon fill="#f9c491" points="820,738.8 830,742.5 832.5,738.8"/>
<polygon fill="#f9c491" points="1350,755 1360,752.5 1367.5,762.5 1380,765 1395,762.5 1407.5,767.5 1417.5,770 1430,767.5 1432.5,782.5 1425,792.5 1415,800 1407.5,797.5 1400,792.5 1390,795 1380,793.8 1372.5,797.5 1362.5,790 1355,782.5 1360,772.5 1352.5,765"/>
<polygon fill="#f9c491" points="1336.2,790 1347.5,782.5 1355,785 1362.5,792.5 1370,800 1372.5,812.5 1375,825 1377.5,835 1372.5,845 1367.5,837.5 1367.5,822.5 1365,810 1357.5,805 1347.5,807.5 1340,802.5 1335,796.2"/>
<polygon fill="#f9c491" points="1323.8,822.5 1332.5,817.5 1340,822.5 1341.2,832.5 1335,838.8 1327.5,836.2 1323.8,830"/>
<polygon fill="#f9c491" points="1357.5,862.5 1365,855 1375,857.5 1382.5,860 1383.8,870 1372.5,870 1367.5,875 1360,875 1356.2,868.8"/>
<polygon fill="#f9c491" points="1255,840 1265,835 1276.2,836.2 1277.5,847.5 1275,855 1265,857.5 1258.8,852.5"/>
<polygon fill="#f9c491" points="1281.2,847.5 1290,840 1297.5,847.5 1298.8,857.5 1295,865 1296.2,871.2 1291.2,871.2 1282.5,862.5"/>
<polygon fill="#f9c491" points="1230,776.2 1237.5,773.8 1250,775 1252.5,782.5 1242.5,787.5 1232.5,785"/>
<polygon fill="#f9c491" points="1260,787.5 1272.5,782.5 1275,790 1266.2,798.8 1261.2,796.2"/>
<polygon fill="#f9c491" points="1198.8,840 1210,837.5 1215,847.5 1212.5,855 1198.8,852.5"/>
<polygon fill="#f9c491" points="1218.8,847.5 1227.5,846.2 1232.5,851.2 1225,855 1220,852.5"/>
<polygon fill="#f9c491" points="1202.5,897.5 1212.5,896.2 1215,902.5 1210,906.2 1202.5,905"/>
<polygon fill="#f9c491" points="1281.2,890 1287.5,887.5 1291.2,895 1285,900"/>
<polygon fill="#f9c491" points="1426.2,992.5 1431.2,990 1433.8,995 1430,1005 1426.2,1002.5"/>
<polygon fill="#f9c491" points="1426.2,995 1430,991.2 1433.8,990.6 1432.5,997.5 1430,1003.8 1427.5,1010 1425,1015 1423.8,1012.5 1425.6,1005 1426.9,1000"/>
<polygon fill="#f9c491" points="1426.2,1015 1429.4,1014.4 1428.1,1022.5 1426.2,1023.1"/>
<polygon fill="#f9c491" points="1421.9,1031.2 1425.6,1030 1426.2,1035 1423.1,1036.9"/>
<polygon fill="#f9c491" points="1415,1033.8 1418.8,1037.5 1420,1040 1418.1,1040.2"/>
<polygon fill="#f9c491" points="1493.8,442.5 1498.8,445 1502.5,452.5 1498.8,455 1495,450"/>
<polygon fill="#f9c491" points="1487.5,470 1493.8,467.5 1497.5,471.2 1492.5,475 1488.1,473.8"/>
<polygon fill="#f9c491" points="1497.5,461.2 1501.2,460 1501.9,465 1498.1,466.2"/>
<polygon fill="#f9c491" points="1120,366.9 1126.2,366.9 1127.5,368.8 1121.2,370.6"/>
<polygon fill="#f9c491" points="1122.5,376.9 1127.5,378.8 1128.1,380.6 1123.8,379.4"/>
<polygon fill="#f9c491" points="1200,381.2 1205,378.8 1207.5,380 1203.8,384.4 1200,385"/>
<polygon fill="#f9c491" points="1210,374.4 1218.8,373.5 1220,375.6 1212.5,377.5"/>
<polygon fill="#f9c491" points="1208.8,383.1 1213.8,381.2 1215,383.1 1210,385.6"/>
<polygon fill="#f9c491" points="425,420 433.8,417.5 432.5,423.8 426.2,425"/>
<polygon fill="#f9c491" points="402.5,432.5 412.5,430 415,440 405,443.8"/>
<polygon fill="#f9c491" points="433.8,437.5 442.5,432.5 440,445 435,447.5"/>
<polygon fill="#f9c491" points="485,450 492.5,447.5 491.2,460 486.2,462.5"/>
<polygon fill="#f9c491" points="480,505 487.5,497.5 490,507.5 483.8,512.5"/>
<polygon fill="#f9c491" points="445,480 452.5,475 455,485 448.8,490"/>
<polygon fill="#f9c491" points="497.5,545 505,537.5 510,545 502.5,555"/>
<polygon fill="#f9c491" points="505,555 512.5,552.5 515,565 510,577.5 505,570"/>
<polygon fill="#f9c491" points="460,580 470,575 472.5,587.5 465,597.5 457.5,592.5"/>
<polygon fill="#f9c491" points="475,580 482.5,577.5 480,590 475,592.5"/>
<polygon fill="#f9c491" points="435,590 445,587.5 447.5,600 440,605"/>
<polygon fill="#f9c491" points="415,600 425,605 430,617.5 422.5,615"/>
<polygon fill="#f9c491" points="430,620 440,625 447.5,640 440,637.5 432.5,630"/>
<polygon fill="#f9c491" points="457.5,625 467.5,630 475,642.5 465,640"/>
<polygon fill="#f9c491" points="490,610 500,605 502.5,617.5 495,622.5"/>
<polygon fill="#f9c491" points="480,635 490,632.5 492.5,645 483.8,647.5"/>
<polygon fill="#f9c491" points="402.5,617.5 412.5,620 415,632.5 407.5,630"/>
<polygon fill="#f9c491" points="517.5,585 522.5,580 523.8,595 518.8,597.5"/>
<polygon fill="#f9c491" points="550,502.5 555,500 556.2,515 551.2,517.5"/>
<polygon fill="#f9c491" points="525,645 535,642.5 532.5,652.5"/>
<polygon fill="#f9c491" points="312.5,492.5 322.5,495 320,507.5 315,505"/>
<polygon fill="#f9c491" points="387.5,515 395,517.5 393.8,527.5 388,525"/>
<polygon fill="#f9c491" points="302.5,532.5 311.2,536.2 310,547.5 303.8,545"/>
<polygon fill="#f9c491" points="315,520 322.5,522.5 321.2,535 316.2,532.5"/>
<polygon fill="#f9c491" points="297.5,502.5 305,505 303.8,515 298,512.5"/>
<polygon fill="#f9c491" points="315,552.5 323.8,555 325,567.5 317.5,565"/>
<polygon fill="#f9c491" points="322.5,610 330,612.5 331.2,625 325,622.5"/>
<polygon fill="#f9c491" points="315,630 322.5,635 327.5,647.5 320,645"/>
<polygon fill="#f9c491" points="335,480 340,477.5 341.2,487.5 336.2,488.8"/>
<polygon fill="#f9c491" points="412.5,485 420,482.5 421.2,495 415,496.2"/>
<polygon fill="#f9c491" points="400,495 406.2,493.8 407,505 401.2,505"/>
<polygon fill="#f9c491" points="526.7,670 536.7,666.7 541.7,675 538.3,686.7 530,688.3 525,680"/>
<polygon fill="#f9c491" points="510,693.3 516.7,690 520,696.7 515,703.3 510,700"/>
<polygon fill="#f9c491" points="530,703.3 538.3,700 541.7,708.3 540,720 533.3,726.7 528.3,716.7"/>
<polygon fill="#f9c491" points="516.7,730 523.3,726.7 526.7,736.7 521.7,741.7"/>
<polygon fill="#f9c491" points="493.3,686.7 498.3,683.3 500,693.3 495,696.7"/>
<polygon fill="#f9c491" points="450,606.7 456.7,605 458.3,615 453.3,618.3"/>
<polygon fill="#f9c491" points="420,641.7 426.7,640 428.3,650 423.3,653.3"/>
<polygon fill="#8a2bab" points="1207.5,471.2 1215,466.2 1230,465 1245,462.5 1257.5,465 1272.5,467.5 1280,471.2"/>
<polygon fill="#8a2bab" points="1405,471.2 1412.5,467.5 1425,468.8 1440,471.2"/>
<polygon fill="#8a2bab" points="1470,471.2 1477.5,462.5 1480.5,465 1475,471.2"/>
<polygon fill="#8a2bab" points="326.2,503.8 332.5,502.5 337.5,517.5 345,530 347.5,542.5 345,552.5 350,565 352.5,577.5 357.5,590 365,600 372.5,612.5 377.5,625 382.5,640 376.2,650 377.5,667.5 375,682.5 365,685 355,677.5 347.5,667.5 345,655 342.5,642.5 350,635 355,622.5 350,612.5 340,600 330,587.5 320,575 322.5,570 332.5,577.5 342.5,580 340,565 335,552.5 337.5,540 332.5,527.5 327.5,515"/>
<polygon fill="#8a2bab" points="366.2,696.2 380,695 395,692.5 406.2,695 402.5,701.2 390,703.8 382.5,710 372.5,705"/>
<polygon fill="#8a2bab" points="412.5,552.5 420,542.5 430,535 440,530 442.5,533.8 432.5,542.5 422.5,552.5 415,557.5"/>
<polygon fill="#8a2bab" points="400,530 410,527.5 407.5,535 401.2,536.2"/>
<polygon fill="#8a2bab" points="531.2,551.2 537.5,550 538.8,561.2 532.5,562.5"/>
<polygon fill="#8a2bab" points="522.5,468.8 535,472.5 547.5,475 552.5,473.8 547.5,482.5 540,480 527.5,476.2"/>
<polygon fill="#8a2bab" points="440,655 447.5,660 445,677.5 438.8,667.5"/>
<polygon fill="#8a2bab" points="890,690 895,680 902.5,672.5 915,670 927.5,665 937.5,660 950,652.5 965,650 977.5,647.5 985,655 982.5,667.5 985,677.5 977.5,687.5 970,695 972.5,707.5 960,717.5 950,715 940,720 937.5,732.5 930,741.2 910,741.2 905,727.5 895,717.5 890,707.5 895,700"/>
<polygon fill="#8a2bab" points="1020,545 1032.5,540 1047.5,535 1057.5,523.8 1075,520 1095,522.5 1112.5,517.5 1110,512.5 1120,510 1140,505 1155,500 1172.5,502.5 1177.5,517.5 1182.5,530 1201.2,527.5 1201.2,741.2 1145,741.2 1145,730 1142.5,715 1150,705 1155,695 1150,687.5 1145,677.5 1135,670 1125,662.5 1110,655 1095,660 1080,667.5 1070,677.5 1055,682.5 1045,675 1030,677.5 1027.5,667.5 1040,660 1045,650 1037.5,642.5 1025,645 1015,645 1012.5,635 1022.5,630 1037.5,630 1040,620 1030,617.5 1020,622.5 1010,620 1002.5,610 997.5,595 992.5,585 1000,580 1010,587.5 1020,582.5 1027.5,575 1025,565 1020,557.5"/>
<polygon fill="#8a2bab" points="960,605 967.5,606.2 962.5,612.5"/>
<polygon fill="#8a2bab" points="972.5,620 985,617.5 995,625 990,635 980,632.5"/>
<polygon fill="#8a2bab" points="1027.5,712.5 1045,710 1047.5,720 1032.5,722.5"/>
<polygon fill="#8a2bab" points="1057.5,702.5 1075,701.2 1076.2,710 1060,711.2"/>
<polygon fill="#8a2bab" points="1212.5,468.8 1282.5,468.8 1293.8,480 1292.5,490 1286.2,502.5 1283.8,518.8 1295,520 1305,523.8 1317.5,520 1330,512.5 1342.5,502.5 1355,495 1366.2,487.5 1372.5,482.5 1380,485 1390,480 1400,482.5 1412.5,477.5 1425,480 1437.5,477.5 1450,482.5 1465,480 1475,485 1480,492.5 1472.5,497.5 1467.5,507.5 1465,517.5 1475,520 1485,515 1487.5,505 1492.5,495 1507.5,497.5 1515,505 1512.5,515 1507.5,520 1502.5,532.5 1497.5,542.5 1490,552.5 1482.5,550 1485,560 1490,575 1492.5,590 1500,595 1497.5,605 1490,605 1482.5,600 1475,592.5 1470,580 1467.5,570 1465,577.5 1467.5,590 1472.5,600 1465,605 1455,602.5 1450,610 1452.5,620 1460,625 1455,635 1445,637.5 1437.5,630 1432.5,620 1425,617.5 1420,625 1415,635 1410,645 1400,650 1392.5,660 1387.5,670 1380,665 1385,655 1380,645 1370,650 1360,655 1350,660 1340,655 1330,660 1320,670 1310,677.5 1300,682.5 1310,690 1315,700 1310,710 1300,717.5 1290,725 1280,735 1275,741.2 1198.8,741.2 1198.8,510 1205,505 1208.8,485"/>
<polygon fill="#8a2bab" points="450,746.2 455.5,747.5 454,751.5 450.5,750"/>
<polygon fill="#8a2bab" points="412.5,771.2 425,775 427.5,780 415,776.2"/>
<polygon fill="#8a2bab" points="1142.5,767.5 1150,760 1165,755 1182.5,753.8 1185,765 1182.5,777.5 1175,782.5 1170,772.5 1157.5,767.5 1147.5,771.2"/>
<polygon fill="#8a2bab" points="1185,738.8 1201.2,738.8 1201.2,750 1190,751.2"/>
<polygon fill="#8a2bab" points="1052.5,742.5 1067.5,745 1070,755 1057.5,760 1050,752.5"/>
<polygon fill="#8a2bab" points="1011.2,752.5 1025,750 1026.2,760 1013.8,762.5"/>
<polygon fill="#8a2bab" points="1092.5,765 1100,767.5 1107.5,782.5 1105,792.5 1095,782.5"/>
<polygon fill="#8a2bab" points="1102.5,905 1112.5,902.5 1117.5,910 1110,915 1102.5,912.5"/>
<polygon fill="#8a2bab" points="1016.2,815 1026.2,813.8 1026.2,820 1017.5,820"/>
<polygon fill="#8a2bab" points="1190,807.5 1201.2,805 1201.2,815 1191.2,815"/>
<polygon fill="#8a2bab" points="1198.8,752.5 1215,751.2 1232.5,750 1247.5,752.5 1250,760 1242.5,767.5 1232.5,767.5 1225,772.5 1212.5,772.5 1205,767.5 1198.8,765"/>
<polygon fill="#8a2bab" points="1198.8,738.8 1286.2,738.8 1286.2,742.5 1270,745 1252.5,747 1225,748.8 1198.8,751.2"/>
<polygon fill="#8a2bab" points="1270,750 1280,747.5 1282.5,760 1275,767.5 1270,762.5"/>
<polygon fill="#8a2bab" points="1203.8,805 1212.5,803.8 1215,812.5 1207.5,817.5 1203.8,812.5"/>
<polygon fill="#8a2bab" points="1218.8,796.2 1226.2,795 1227.5,802.5 1220,803.8"/>
<polygon fill="#8a2bab" points="1285,777.5 1292.5,776.2 1293.8,785 1287.5,787.5"/>
<polygon fill="#8a2bab" points="1278.8,815 1290,813.8 1291.2,822.5 1281.2,823.8"/>
<polygon fill="#8a2bab" points="1296.2,763.8 1302.5,761.2 1303.8,767.5 1297.5,768.8"/>
<polygon fill="#8a2bab" points="1305,885 1315,882.5 1327.5,876.2 1335,870 1342.5,872.5 1345,882.5 1340,892.5 1330,897.5 1320,900 1310,897.5 1303.8,892.5"/>
<polygon fill="#8a2bab" points="1332.5,900 1342.5,898.8 1347.5,905 1342.5,911.2 1335,908.8"/>
<polygon fill="#8a2bab" points="1256.2,885 1263.8,882.5 1265,892.5 1258.8,895"/>
<polygon fill="#8a2bab" points="1260,865 1266.2,862.5 1267.5,872.5 1261.2,873.8"/>
<polygon fill="#8a2bab" points="1360,915 1367.5,912.5 1372.5,918.8 1366.2,923.8 1360,921.2"/>
<polygon fill="#8a2bab" points="1352.5,920 1357.5,925 1360,930 1355,928.8"/>
<polygon fill="#8a2bab" points="1366.2,933.8 1375,930 1387.5,931.2 1397.5,930 1400,940 1397.5,950 1390,952.5 1385,960 1390,965 1397.5,970 1403.8,977.5 1406.2,986.2 1400,992.5 1392.5,997.5 1385,1000 1377.5,995 1370,987.5 1365,978.8 1370,968.8 1365,965 1361.2,961.2 1362.5,950 1367.5,942.5"/>
<polygon fill="#8a2bab" points="1397.5,1010.6 1401.2,1012.5 1400,1014.4 1397.2,1012.5"/>
<polygon fill="#8a2bab" points="1405,1021.9 1408.8,1022.5 1407.5,1024.4"/>
<polygon fill="#8a2bab" points="1441.2,994.4 1443.8,993.8 1443.1,998.8 1441.2,998.1"/>
<polygon fill="#8a2bab" points="1207.5,475.6 1208.8,465 1212.5,467.5 1220,470 1227.5,466.2 1232.5,465 1240,463.8 1247.5,461.2 1252.5,463.8 1260,466.2 1267.5,465 1275,466.2 1281.2,468.8 1283.8,475.6"/>
<polygon fill="#8a2bab" points="470,397.5 477.5,395 483.8,400 482.5,407.5 475,408.8 471.2,403.8"/>
<polygon fill="#8a2bab" points="465,423.8 470,422.5 471.2,430 466.2,431.2"/>
<polygon fill="#8a2bab" points="478.8,420 486.2,425 488.8,433.8 482.5,431.2"/>
<polygon fill="#8a2bab" points="512.5,441.2 522.5,446.2 521.2,448.8 512.5,445"/>
<polygon fill="#8a2bab" points="1396.7,470.8 1406.7,467.5 1416.7,471.3 1430,473 1440,471.3 1453.3,468 1463.3,466.3 1471.7,460.3 1476.7,458.7 1474.2,465 1466.7,470.3 1460,473.3 1446.7,475 1430,476.7 1413.3,477.7 1400,478"/>
<polygon fill="#cc4a7b" points="355,662.5 367.5,657.5 365,675 358.8,677.5"/>
<polygon fill="#cc4a7b" points="1037.5,620 1047.5,612.5 1060,615 1062.5,625 1055,635 1042.5,635 1036.2,627.5"/>
<polygon fill="#cc4a7b" points="1075,620 1082.5,612.5 1095,611.2 1102.5,620 1100,630 1087.5,632.5 1080,630"/>
<polygon fill="#cc4a7b" points="1085,630 1100,632.5 1110,645 1105,650 1092.5,642.5"/>
<polygon fill="#cc4a7b" points="1055,587.5 1060,585 1065,600 1060,605"/>
<polygon fill="#cc4a7b" points="1012.5,587.5 1020,590 1017.5,600 1010,595"/>
<polygon fill="#cc4a7b" points="1385,590 1392.5,587.5 1397.5,600 1395,615 1390,630 1385,645 1375,650 1380,635 1382.5,620 1386.2,605"/>
<polygon fill="#cc4a7b" points="1295,635 1307.5,632.5 1317.5,640 1325,650 1317.5,660 1305,667.5 1295,675 1285,682.5 1275,680 1282.5,667.5 1287.5,655 1292.5,645"/>
<polygon fill="#cc4a7b" points="1250,660 1265,655 1275,660 1265,670 1255,675 1245,672.5"/>
<polygon fill="#cc4a7b" points="1220,702.5 1232.5,700 1237.5,710 1230,725 1222.5,735 1215,730 1217.5,715"/>
<polygon fill="#cc4a7b" points="1262.5,700 1272.5,697.5 1275,707.5 1267.5,720 1260,730 1255,725 1260,712.5"/>
<polygon fill="#cc4a7b" points="1235,480 1240,477.5 1241.2,492.5 1236.2,495"/>
<polygon fill="#cc4a7b" points="1427.5,515 1437.5,513.8 1438.8,523.8 1428.8,526.2"/>
<polygon fill="#cc4a7b" points="1192.5,725 1215,717.5 1237.5,721.2 1252.5,736.2 1237.5,747.5 1215,743.8 1196.2,740"/>
<polygon fill="#cc4a7b" points="1170,732.5 1185,728.8 1188.8,747.5 1173.8,751.2"/>
<polygon fill="#cc4a7b" points="1260,717.5 1271.2,710 1278.8,725 1267.5,736.2"/>
<polygon fill="#cc4a7b" points="1155,717.5 1166.2,713.8 1168.1,725 1156.9,728.8"/>
<polygon fill="#cc4a7b" points="1386.7,591.7 1396.7,593.3 1395,603.3 1388.3,610 1383.3,621.7 1378.3,633.3 1373.3,641.7 1363.3,648.3 1351.7,655 1343.3,656.7 1336.7,651.7 1343.3,643.3 1353.3,635 1363.3,630 1370,623.3 1376.7,613.3 1381.7,603.3"/>
<polygon fill="#cc4a7b" points="1433.3,486.7 1443.3,483.3 1455,486.7 1461.7,493.3 1456.7,501.7 1446.7,503.3 1438.3,498.3"/>
<polygon fill="#21248f" points="1105,585 1115,582.5 1122.5,590 1125,600 1120,607.5 1112.5,606.2 1107.5,597.5 1102.5,590"/>
<polygon fill="#21248f" points="1117.5,542.5 1130,532.5 1140,535.5 1142.5,545 1152.5,542.5 1157.5,550 1155,560 1167.5,562.5 1180,557.5 1185,570 1186.2,582.5 1177.5,587.5 1165,590 1155,582.5 1145,577.5 1140,567.5 1130,565 1125,555 1115,555"/>
<polygon fill="#21248f" points="1158.8,617.5 1170,612.5 1182.5,615 1187.5,622.5 1180,630 1170,628.8 1162.5,625"/>
<polygon fill="#21248f" points="1187.5,620 1201.2,610 1201.2,656.2 1190,653.8 1182.5,656.2 1180,650 1185,640"/>
<polygon fill="#21248f" points="1185,555 1201.2,551.2 1201.2,590 1190,587.5 1185.5,575"/>
<polygon fill="#21248f" points="1145,630 1152.5,628.8 1153.8,633.8 1146.2,635"/>
<polygon fill="#21248f" points="1198.8,545 1205,535 1215,530 1225,526.2 1247.5,523.8 1260,530 1272.5,528.8 1285,523.8 1295,532.5 1307.5,530 1317.5,523.8 1330,517.5 1342.5,511.2 1351.2,515 1353.8,532.5 1355,545 1347.5,552.5 1340,545 1332.5,552.5 1325,562.5 1317.5,567.5 1307.5,570 1305,580 1310,587.5 1300,590 1297.5,602.5 1287.5,610 1280,615 1272.5,610 1262.5,607.5 1257.5,610 1256.2,617.5 1247.5,620 1242.5,630 1235,640 1225,645 1215,642.5 1210,632.5 1205,620 1198.8,615"/>
<polygon fill="#21248f" points="1355,565 1365,570 1367.5,580 1357.5,582.5 1352.5,575"/>
<polygon fill="#21248f" points="1360,542.5 1370,540 1375,550 1365,552.5"/>
<polygon fill="#21248f" points="1237.5,635 1250,630 1265,630 1272.5,635 1262.5,642.5 1250,645 1240,647.5"/>
<polygon fill="#21248f" points="1198.8,665 1210,660 1215,667.5 1207.5,675 1198.8,677.5"/>
<polygon fill="#21248f" points="1222.5,677.5 1232.5,675 1235,685 1225,687.5"/>
<polygon fill="#21248f" points="1377.5,520 1387.5,512.5 1395,510 1392.5,517.5 1382.5,525"/>
<polygon fill="#21248f" points="1435,515 1445,510 1452.5,512.5 1447.5,520 1437.5,522.5"/>
<polygon fill="#21248f" points="1497.5,497.5 1505,500 1507.5,510 1500,512.5"/>
<polygon fill="#21248f" points="1385,545 1392.5,537.5 1397.5,540 1390,555 1385,560"/>
<polygon fill="#21248f" points="1405,535 1407.5,530 1410,537.5 1406.2,542.5"/>
<polygon fill="#21248f" points="1405,580 1412.5,575 1415,587.5 1407.5,595"/>
<polygon fill="#21248f" points="1357.5,615 1370,605 1372.5,610 1362.5,620"/>
<polygon fill="#8a2bab" points="1225,562.5 1235,560 1237.5,570 1230,572.5"/>
<polygon fill="#8a2bab" points="1207.5,610 1215,607.5 1217.5,620 1210,625"/>
<polygon fill="#8a2bab" points="1230,542.5 1237.5,540 1237.5,550 1231.2,552.5"/>
<polygon fill="#8a2bab" points="1185,531.7 1206.7,530 1221.7,528.3 1220,536.7 1213.3,541.7 1206.7,543.3 1200,550 1196.7,560 1200,566.7 1195,568.3 1188.3,563.3 1185,550"/>
<polygon fill="#8a2bab" points="1358.3,610 1366.7,603.3 1371.7,605 1366.7,613.3 1360,618.3"/>
<polygon fill="#ffffff" points="1132.5,915 1140,910 1150,912.5 1150.5,918 1140,920.5"/>
<polygon fill="#ffffff" points="1003.8,937.5 1010,933.8 1012,940 1006.2,943.8"/>
<polygon fill="#ffffff" points="1417.5,987.5 1422.5,982.5 1426.2,986.2 1426.2,995 1421.2,997.5 1417.5,992.5"/>
<polygon fill="#ffffff" points="1360,967.5 1365,965 1370,968.8 1365,976.2 1361.2,973.8"/>
</g>
<g fill="none" stroke="#fff" stroke-width="1.6" stroke-linejoin="round">
<polyline points="344.5,296.2 355,298.8 362.5,305 366.2,312.5 367.5,322.5 375,328.8 390,329.5 402.5,333.8 415,336.2 435,335 455,335 475,340 498.8,345"/>
<polyline points="517,248.2 508.8,292.5 500,335 498.8,345 505,355 505,362.5 495,375 486.2,387.5 480,400 485,403.8 480,412.5 468.8,471.2"/>
<polyline points="537.5,253.2 531.2,285 536.2,305 547.5,325 560,336.2 556.2,350 551.2,370 562.5,370 567.5,385 572.5,400 581.2,413.8 595,412.5 612.5,415 617.5,411.2 622.5,417.5"/>
<polyline points="626.2,403.8 622.5,417.5 616.2,471.2"/>
<polyline points="626.2,403.8 720,415"/>
<polyline points="298,427 365,446.2 395,454.5 468.8,471.2"/>
<polyline points="395,454.5 393,471.2"/>
<polyline points="798.8,293 791.2,392 787.5,422.5 783.8,471.2"/>
<polyline points="791.2,392 870,397.5 961.2,400"/>
<polyline points="720,415.5 787.5,422.5"/>
<polyline points="947.5,300.5 951.2,325 955,350 957.5,375 961.2,390 961.2,400 960,406.2 955,411.2 958.8,416.2 963.8,420 963.8,471.2"/>
<polyline points="1061.2,373.8 1060,395 1050,400 1046.2,407.5 1051.2,417.5 1050,435 1055,442.5 1066.2,450 1075,458.8 1082.5,466.2 1085,471.2"/>
<polyline points="1100,373.8 1110,382.5 1130,387.5 1150,391.2"/>
<polyline points="1497.5,368.8 1500,380 1503.8,395 1507.5,412.5 1512.5,417.5 1515,432.5 1517,440 1517.5,462.5 1518.8,471.2"/>
<polyline points="1537.5,358.8 1540,372.5 1535,382.5 1532.5,392.5 1533.8,405 1531.2,420 1533.8,435"/>
<polyline points="1546.2,347.5 1550,362.5 1557.5,385 1565,405 1573.8,413.8"/>
<polyline points="1517,440 1533.8,435 1562.5,428.8 1570,422.5 1573.8,421.2"/>
<polyline points="1517.5,462.5 1535,458.8 1557.5,453.8 1565,452.5 1572.5,465 1575,471.2"/>
<polyline points="1557.5,453.8 1560,471.2"/>
<polyline points="392.5,468.8 385,500 377.5,532.5 373.2,550 376.2,560 402.5,597.5 440,655 465,692.5 480,711.2 482.5,700 483.8,677.5 490,676.2 496.2,681.2 501.2,675 503.8,667.5 507.5,650 522.5,570 538.8,488.8"/>
<polyline points="468.8,471.2 538.8,488.8 610,500.5"/>
<polyline points="507.5,650 636.2,672"/>
<polyline points="616.2,468.8 610,500.5 606.2,532.5 653.8,541.2 721.2,550"/>
<polyline points="653.8,541.2 636.2,672 626.2,741.2"/>
<polyline points="636.2,672 721.2,683"/>
<polyline points="480,711.2 478.8,720 482.5,730 486.2,741.2"/>
<polyline points="783.8,468.8 781.2,488.8 777.5,553.8"/>
<polyline points="718.8,548.8 777.5,553.8 825,558 823.8,591.2 817.5,690"/>
<polyline points="781.2,488.8 915,496.2 927.5,502.5 940,501.2 952.5,506.2 961.2,511.2"/>
<polyline points="823.8,591.2 988.8,595"/>
<polyline points="963.8,468.8 961.2,480 1087.5,477.5 1088.8,468.8"/>
<polyline points="961.2,480 963.8,492.5 960,502.5 961.2,511.2 967.5,525 972.5,540 977.5,555 978.8,570 983.8,577.5 988.8,595 997.5,602.5 1000,610 1005,620 1010,625 1011.2,695 1012.5,711.2 1016.2,741.2"/>
<polyline points="983.8,577.5 1080,573 1087.5,580"/>
<polyline points="718.8,681.2 817.5,690 1011.2,695"/>
<polyline points="792.5,688 790,705 870,710 867.5,741.2"/>
<polyline points="790,705 787.5,741.2"/>
<polyline points="1012.5,711.2 1130,707.5 1131.2,720 1126.2,722.5 1140,722.5"/>
<polyline points="1087.5,477.5 1092.5,495 1102.5,505 1110,512.5 1117.5,522.5 1115,535 1105,542.5 1095,550 1097.5,562.5 1090,572.5 1087.5,580 1090,595 1097.5,607.5 1107.5,620 1115,630 1122.5,635 1120,647.5 1130,657.5 1140,667.5 1145,677.5 1150,687.5 1155,695 1145,705 1142.5,715 1140,722.5 1135,741.2"/>
<polyline points="1106.2,510 1173,505.8"/>
<polyline points="1182,530 1183.8,570 1187.5,620 1185,640 1180,650 1182.5,656.2 1190,653.8 1201.2,656.2"/>
<polyline points="1180,655 1177.5,670 1167.5,680 1155,682.5 1150,687.5"/>
<polyline points="1153.8,699.5 1201.2,696.2"/>
<polyline points="1247.5,521.2 1253.8,570 1257.5,607.5"/>
<polyline points="1198.8,528 1247.5,521.2 1282.5,518.8"/>
<polyline points="1350,500 1356.2,545 1362.5,573 1480,551.2 1485,546.2"/>
<polyline points="1366.2,487.5 1367.5,496.2 1472.5,476.2 1477.5,480 1482.5,490 1492.5,493.8 1517.5,502.5"/>
<polyline points="1492.5,493.8 1487.5,505 1490,515 1500,525 1502.5,532.5 1495,540 1487.5,545 1485,546.2 1487.5,555 1495,566.2"/>
<polyline points="1356.2,545 1355,562.5 1350,577.5 1337.5,590 1332.5,600 1325,607.5 1322.5,620 1316.2,625"/>
<polyline points="1198.8,656.2 1207.5,655 1217.5,650 1222.5,642.5 1232.5,645 1235,637.5 1242.5,630 1245,622.5 1257.5,617.5 1257.5,607.5 1265,610 1275,617.5 1287.5,620 1300,620 1307.5,615 1316.2,625 1320,635 1330,647.5 1337.5,652.5 1345,660 1355,656.2 1367.5,650 1380,642.5 1382.5,630 1390,610 1400,607.5 1405,595 1415,587.5 1417.5,575 1430,580 1432.5,572.5 1422.5,565"/>
<polyline points="1388.8,568.8 1391.2,585 1400,575 1407.5,570 1417.5,567.5 1422.5,565 1432.5,572.5 1440,580 1452.5,585 1450,597.5 1457.5,605 1470,602.5 1477.5,610"/>
<polyline points="1480,551.2 1482.5,560 1491.2,591.2 1506.2,590"/>
<polyline points="1198.8,696.2 1295,687.5 1348.8,681.2 1425,668.8 1498.8,655"/>
<polyline points="1295,687.5 1305,682.5 1320,670 1335,655 1337.5,652.5"/>
<polyline points="1348.8,681.2 1347.5,690 1340,697.5 1330,705 1320,710 1312.5,720 1300,727.5 1290,732.5 1287.5,741.2"/>
<polyline points="1317.5,732.5 1330,727.5 1372.5,725 1380,733.8 1415,731.2 1425,741.2"/>
<polyline points="1518.8,468.8 1522.5,485 1520,495"/>
<polyline points="486.2,738.8 477.5,745 473.8,757.5 466.2,765 466.2,775 470,780 467.5,785 461.2,786.2"/>
<polyline points="627.5,738.8 620,790 611.2,856.2"/>
<polyline points="680,844.5 721.2,848.8"/>
<polyline points="788.8,738.8 780,852.5"/>
<polyline points="718.8,847.5 780,852.5"/>
<polyline points="868.8,738.8 867.5,771.2 877.5,780 890,785 905,788.8 920,796.2 935,798.8 952.5,797.5 965,802.5 980,798.8 995,797.5 1007.5,802.5 1016.2,806.2 1027.5,808.8 1030,825 1030,860 1037.5,875 1042.5,887.5 1040,902.5 1040,920 1033.8,935"/>
<polyline points="1015,738.8 1016.2,806.2"/>
<polyline points="1030,825 1106.2,823.8"/>
<polyline points="1135,738.8 1130,755 1120,767.5 1115,782.5 1107.5,797.5 1106.2,812.5 1107.5,823.8 1112.5,840 1110,852.5 1105,865 1100,877.5 1097.5,890 1151.2,887.5 1150,900 1157.5,915 1160,917.5"/>
<polyline points="1130,756.2 1185,752.5 1201.2,751.2"/>
<polyline points="1185,752.5 1186.2,840 1192.5,905"/>
<polyline points="1198.8,751.2 1252.5,747 1286.2,742.5 1315,740"/>
<polyline points="1252.5,747 1262.5,785 1275,817.5 1281.2,833.8 1277.5,847.5 1281.2,865 1283.8,875 1288.8,884.5 1362.5,878.8 1365,885 1367.5,883.8 1367.5,875 1372.5,870 1385,870"/>
<polyline points="1211.2,883 1283.8,875"/>
<polyline points="1315,740 1313.8,747.5 1325,755 1335,767.5 1347.5,780 1360,790 1370,797.5 1375,810 1385,820 1393.8,826.2"/>
<polyline points="1422.5,738.8 1447.5,756.2"/>
<polyline points="1120,384.4 1132.5,388.1 1145,390.6 1153.8,392.5 1157.5,395.6 1162.5,400 1163.8,407.5 1166.2,412.5 1168.8,418.1"/>
</g>
</g>
</svg>
</body></html>
